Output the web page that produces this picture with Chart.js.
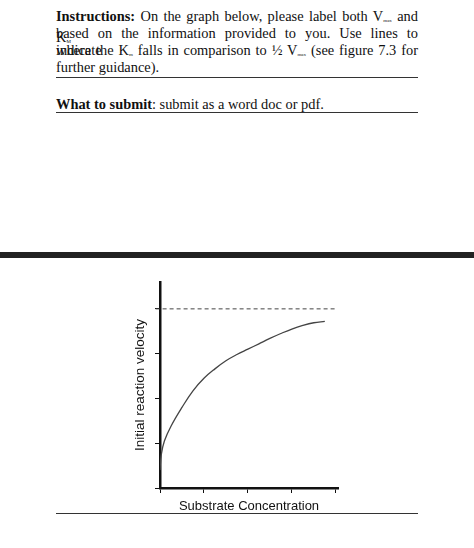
<!DOCTYPE html>
<html><head><meta charset="utf-8">
<script src="https://cdn.jsdelivr.net/npm/chart.js@4"></script>
<style>
body{margin:0;width:474px;height:548px;background:#fff;position:relative;overflow:hidden;font-family:"Liberation Serif","Times New Roman",serif;color:#111}
.l{position:absolute;left:56px;width:362px;font-size:14.4px;line-height:17px;white-space:nowrap}
.j{text-align:justify;text-align-last:justify;white-space:normal}
.u{position:absolute;left:56px;width:362px;height:1px;background:#333}
sub{font-size:5px;vertical-align:-1px}
#wrap{position:absolute;left:120px;top:272px;width:230px;height:250px}
</style></head><body>
<div class="l j" style="top:8px"><b>Instructions:</b> On the graph below, please label both V<sub>max</sub> and K<sub>M</sub></div>
<div class="l j" style="top:25px">based on the information provided to you. Use lines to indicate</div>
<div class="l j" style="top:42px">where the K<sub>m</sub> falls in comparison to ½ V<sub>max</sub> (see figure 7.3 for</div>
<div class="l" style="top:59px">further guidance).</div>
<div class="u" style="top:77px"></div>
<div class="l" style="top:96px"><b>What to submit</b>: submit as a word doc or pdf.</div>
<div class="u" style="top:112px"></div>
<div style="position:absolute;left:0;top:252px;width:474px;height:6px;background:#222"></div>
<div class="u" style="top:513px"></div>
<div id="wrap"><canvas id="c"></canvas></div>
<script>
const xTicks=[0,1,2,3,4];
const yTicks=[0,1,2,3,4];
const curveX=[0,0.03,0.1,0.25,0.5,0.75,1,1.25,1.5,1.75,2,2.25,2.5,2.75,3,3.25,3.5,3.75];
const curveY=[0.4,0.75,1.05,1.38,1.8,2.17,2.45,2.66,2.84,2.98,3.1,3.22,3.34,3.45,3.55,3.63,3.69,3.72];
const vmax=4;
const xTitle='Substrate Concentration';
const yTitle='Initial reaction velocity';
new Chart(document.getElementById('c'),{
 type:'scatter',
 data:{datasets:[
  {data:curveX.map((x,i)=>({x,y:curveY[i]})),showLine:true,borderColor:'#444',borderWidth:1.3,pointRadius:0,tension:0.4},
  {data:[{x:-0.1,y:vmax},{x:3.98,y:vmax}],showLine:true,borderColor:'#444',borderWidth:1,borderDash:[4,3],pointRadius:0,clip:false}
 ]},
 options:{responsive:true,maintainAspectRatio:false,animation:false,
  layout:{padding:{left:8,right:12,top:10,bottom:6}},
  plugins:{legend:{display:false},tooltip:{enabled:false}},
  scales:{
   x:{type:'linear',min:0,max:4.05,afterBuildTicks:s=>{s.ticks=xTicks.map(v=>({value:v}))},
      ticks:{callback:()=>'',padding:0},
      grid:{drawOnChartArea:false,tickLength:5,color:'#111',lineWidth:1},
      border:{color:'#111',width:2.5},
      title:{display:true,text:xTitle,font:{family:'Liberation Sans',size:13},color:'#111',padding:{top:0,bottom:2}},
      afterFit:s=>{s.height=28}},
   y:{type:'linear',min:0,max:4.6,afterBuildTicks:s=>{s.ticks=yTicks.map(v=>({value:v}))},
      ticks:{callback:()=>'',padding:0},
      grid:{drawOnChartArea:false,tickLength:5,color:'#111',lineWidth:1},
      border:{color:'#111',width:2.5},
      title:{display:true,text:yTitle,font:{family:'Liberation Sans',size:13.5},color:'#111',padding:{top:4,bottom:0}},
      afterFit:s=>{s.width=32}}
  }}
});
</script>
</body></html>
